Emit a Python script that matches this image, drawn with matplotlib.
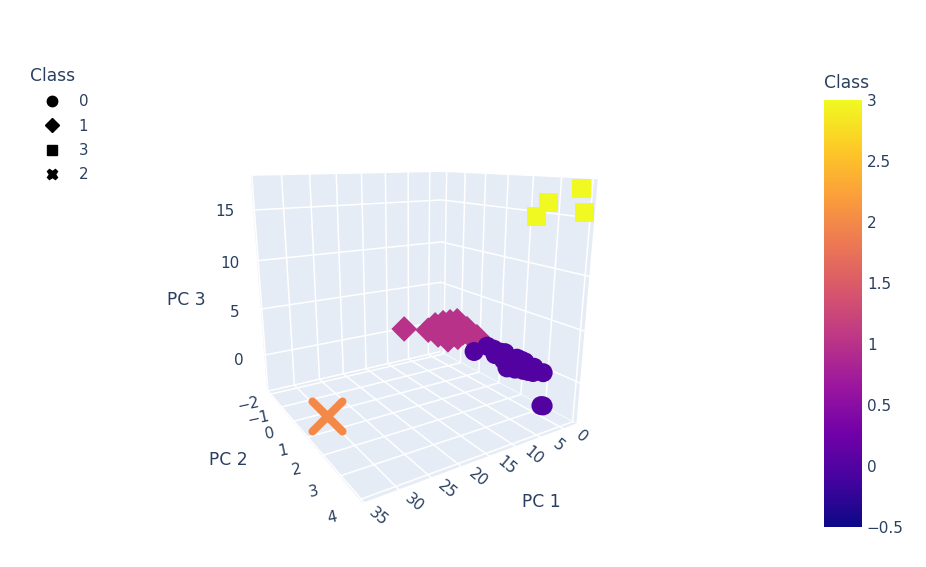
import matplotlib
matplotlib.use("Agg")
import matplotlib.pyplot as plt
from matplotlib.colors import LinearSegmentedColormap, Normalize
from matplotlib.cm import ScalarMappable
from matplotlib.lines import Line2D
from mpl_toolkits.mplot3d import proj3d

# puntos
pc1_c0 = [7.8, 7.1, 5.9, 5.4, 3.9, 3.3, 1.6, 4.8, 3.6, 2.6, 6.4, 4.7, 1.1, 1.6, 2.45, 3.75, 4.75, 5.35, 6.5, 3.6, 4.2, 3.1]
pc2_c0 = [1.95, 2.35, 2.65, 2.75, 2.95, 3.15, 3.55, 2.75, 3.15, 3.35, 2.55, 2.95, 3.55, 3.55, 3.35, 3.05, 2.85, 2.7, 2.5, 3.05, 2.95, 3.25]
pc3_c0 = [1.9, 2.8, 2.4, 2.4, 1.9, 1.7, 0.9, 0.8, 0.9, 0.8, 2.1, 1.5, -2.5, -2.4, 1.3, 1.4, 1.15, 1.6, 2.6, 1.8, 0.85, 0.85]

pc1_c1 = [17.6, 12.9, 11.5, 10.3, 9.6, 10.1, 9.4, 8.8, 8.3, 7.8, 7.6, 10.5, 9.7, 9.95, 8.7, 11.5]
pc2_c1 = [0.95, 0.95, 0.95, 1.05, 1.55, 1.25, 1.55, 1.65, 1.85, 2.05, 2.15, 1.05, 1.35, 1.3, 1.8, 1.1]
pc3_c1 = [4.2, 3.6, 4.0, 4.2, 4.8, 2.6, 3.1, 3.6, 3.5, 3.5, 3.1, 3.2, 3.7, 4.5, 4.15, 3.1]

pc1_c2 = [32.6]
pc2_c2 = [1.35]
pc3_c2 = [-1.9]

pc1_c3 = [-1.1, -1.3, 2.3, 3.2]
pc2_c3 = [3.95, 4.05, 3.45, 3.25]
pc3_c3 = [17.5, 15.5, 16.3, 15.1]

x_ticks = [0, 5, 10, 15, 20, 25, 30, 35]
y_ticks = [-2, -1, 0, 1, 2, 3, 4]
z_ticks = [0, 5, 10, 15]
cbar_ticks = [-0.5, 0, 0.5, 1, 1.5, 2, 2.5, 3]
cbar_labels = ["\u22120.5", "0", "0.5", "1", "1.5", "2", "2.5", "3"]

xl = (-3.0, 35.3)
yl = (-2.25, 4.15)
zl = (-4.1, 18.3)

TXT = "#2a3f5f"
PANE = "#E5ECF6"
plasma = LinearSegmentedColormap.from_list("plasma_px", [
    "#0d0887", "#46039f", "#7201a8", "#9c179e", "#bd3786",
    "#d8576b", "#ed7953", "#fb9f3a", "#fdca26", "#f0f921"])
norm = Normalize(-0.5, 3)

plt.rcParams["font.family"] = "DejaVu Sans"
plt.rcParams["grid.color"] = "white"
plt.rcParams["grid.linewidth"] = 1.1

W, H = 926, 567
fig = plt.figure(figsize=(W / 100, H / 100), dpi=100)
ax = fig.add_axes([206.8 / W, 63.8 / H, 399.1 / W, 399.1 / H], projection="3d")
ax.set_xlim(*xl)
ax.set_ylim(*yl)
ax.set_zlim(*zl)
ax.set_box_aspect((1, 1, 1))
ax.set_proj_type("persp", focal_length=0.25)
ax.view_init(elev=15, azim=58)
ax.computed_zorder = False

ax.set_xticks(x_ticks)
ax.set_yticks(y_ticks)
ax.set_zticks(z_ticks)
for axis in [ax.xaxis, ax.yaxis, ax.zaxis]:
    axis.set_ticklabels([])
    axis.set_pane_color(PANE)
    axis.pane.set_edgecolor("white")
    axis.line.set_color((1, 1, 1, 0))
ax.tick_params(color=(1, 1, 1, 0))

ax.scatter(pc1_c1, pc2_c1, pc3_c1, c=[1] * len(pc1_c1), cmap=plasma, norm=norm, marker="D",
           s=170, linewidths=0, depthshade=False, zorder=2)
ax.scatter(pc1_c0, pc2_c0, pc3_c0, c=[0] * len(pc1_c0), cmap=plasma, norm=norm, marker="o",
           s=187, linewidths=0, depthshade=False, zorder=3)
ax.scatter(pc1_c3, pc2_c3, pc3_c3, c=[3] * len(pc1_c3), cmap=plasma, norm=norm, marker="s",
           s=187, linewidths=0, depthshade=False, zorder=4)
ax.scatter(pc1_c2, pc2_c2, pc3_c2, c=[2] * len(pc1_c2), cmap=plasma, norm=norm, marker="x",
           s=467, linewidths=5.8, capstyle="round", depthshade=False, zorder=5)


def tick_text(x, y, z, s, rot=0):
    # Text3D ignora rotation, asi que se proyecta a mano
    px, py, _ = proj3d.proj_transform(x, y, z, ax.get_proj())
    ax.text2D(px, py, s, transform=ax.transData, color=TXT, fontsize=11, rotation=rot,
              ha="center", va="center", rotation_mode="anchor")


for v in x_ticks:
    tick_text(v, yl[1] + 0.6, zl[0] + 0.2, str(v), -40)
for v in y_ticks:
    tick_text(xl[1] + 3.7, v, zl[0] - 0.6, str(v).replace("-", "\u2212"), 12)
for v in z_ticks:
    tick_text(xl[1] + 4.4, yl[0], v, str(v))

fig.text(541 / W, 1 - 502 / H, "PC 1", color=TXT, fontsize=12.3, ha="center", va="center")
fig.text(228 / W, 1 - 460 / H, "PC 2", color=TXT, fontsize=12.3, ha="center", va="center")
fig.text(186 / W, 1 - 300 / H, "PC 3", color=TXT, fontsize=12.3, ha="center", va="center")

# colorbar
cax = fig.add_axes([824 / W, 1 - 527 / H, 38 / W, 427 / H])
cb = fig.colorbar(ScalarMappable(norm=norm, cmap=plasma), cax=cax)
cb.set_ticks(cbar_ticks)
cb.set_ticklabels(cbar_labels)
cb.ax.tick_params(length=0, pad=3.5, labelsize=11, labelcolor=TXT)
cb.outline.set_visible(False)
cb.ax.set_title("Class", loc="left", fontsize=12.3, color=TXT, pad=9)

# leyenda
handles = [
    Line2D([], [], color="black", linestyle="none", marker="o", markersize=7.5),
    Line2D([], [], color="black", linestyle="none", marker="D", markersize=6.8),
    Line2D([], [], color="black", linestyle="none", marker="s", markersize=7.3),
    Line2D([], [], color="black", linestyle="none", marker="X", markersize=7.8),
]
leg = fig.legend(handles, ["0", "1", "3", "2"], title="Class", loc="upper left",
                 bbox_to_anchor=(30 / W, 1 - 67 / H), frameon=False, fontsize=10.8,
                 title_fontsize=12.3, alignment="left", borderpad=0, borderaxespad=0,
                 labelspacing=0.62, handlelength=2.9, handletextpad=0.35, labelcolor=TXT)
leg.get_title().set_color(TXT)

fig.savefig("out.png", dpi=100)
